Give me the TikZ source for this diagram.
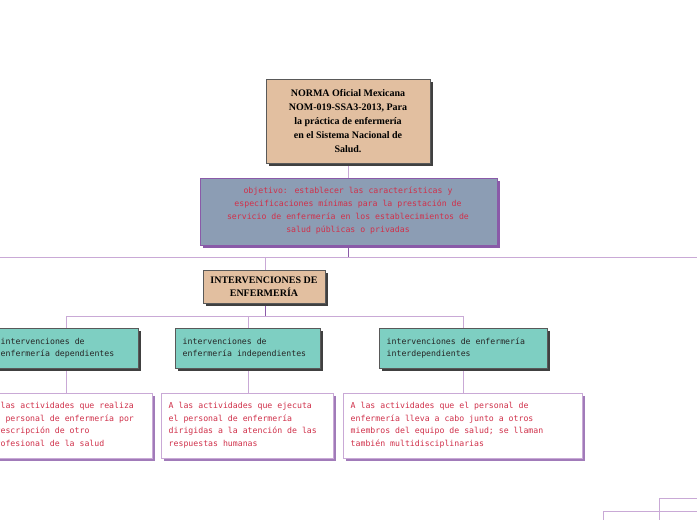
\documentclass[tikz,border=0pt]{standalone}
\usepackage{fontspec}
\setmainfont{Liberation Serif}
\newfontfamily\monof{DejaVu Sans Mono}
\definecolor{tan}{HTML}{E2BFA0}
\definecolor{slate}{HTML}{8C9DB4}
\definecolor{teal}{HTML}{7ECFC2}
\definecolor{lin}{HTML}{C9A9D6}
\definecolor{pur}{HTML}{8A5AA8}
\definecolor{txtred}{HTML}{D0304A}
\tikzset{
  x=1pt,y=-1pt,
  lk/.style={draw=lin,line width=1pt},
  tanbox/.style={draw=gray!70!black,fill=tan,line width=0.8pt,font=\bfseries\fontsize{10}{13}\selectfont,align=center,inner sep=3pt},
  slatebox/.style={draw=pur,fill=slate,line width=0.8pt,font=\monof\fontsize{8.2}{13}\selectfont,text=txtred,align=center},
  tealbox/.style={draw=gray!70!black,fill=teal,line width=0.8pt,font=\monof\fontsize{8.2}{12}\selectfont,align=left,text=black!85},
  whitebox/.style={draw=lin,fill=white,line width=0.8pt,font=\monof\fontsize{8.2}{12.5}\selectfont,align=left,text=txtred},
  shd/.style={fill=#1}
}
\begin{document}
\begin{tikzpicture}
\useasboundingbox (0,0) rectangle (697,520);
\clip (0,0) rectangle (697,520);
% lines
\draw[lk] (0,257) -- (697,257);
\draw[lk] (348,163) -- (348,178);
\draw[pur,line width=1pt] (348,245) -- (348,257);
\draw[lk] (265,257) -- (265,270);
\draw[pur,line width=1pt] (265,303) -- (265,316);
\draw[lk] (66,316) -- (463,316);
\draw[lk] (66,316) -- (66,328) (248,316) -- (248,328) (463,316) -- (463,328);
\draw[lk] (66,368) -- (66,393) (248,368) -- (248,393) (463,368) -- (463,393);
\draw[lk] (659,520) -- (659,498) -- (697,498);
\draw[lk] (603,520) -- (603,511) -- (697,511);
% shadows
\fill[black!75] (269,82) rectangle (433,166);
\fill[pur] (203,181) rectangle (500,248);
\fill[black!75] (206,273) rectangle (328,306);
\foreach \a/\b in {-30/141,178/323,382/550} \fill[black!75] (\a,331) rectangle (\b,371);
\foreach \a/\b in {-40/155,164/336,346/585} \fill[pur!80] (\a,396) rectangle (\b,461);
% boxes
\draw[draw=gray!70!black,fill=tan,line width=0.8pt] (266,79) rectangle (430,163);
\node[align=center,font=\bfseries\fontsize{10}{14}\selectfont] (top) at (348,121) {NORMA Oficial Mexicana\\NOM-019-SSA3-2013, Para\\la práctica de enfermería\\en el Sistema Nacional de\\Salud.};
\draw[draw=pur,fill=slate,line width=0.8pt] (200,178) rectangle (497,245);
\node[slatebox,draw=none,fill=none] (obj) at (348,211) {objetivo: establecer las características y\\especificaciones mínimas para la prestación de\\servicio de enfermería en los establecimientos de\\salud públicas o privadas};
\draw[draw=gray!70!black,fill=tan,line width=0.8pt] (203,270) rectangle (325,303);
\node[align=center,font=\bfseries\fontsize{10}{13}\selectfont] (int) at (264,287) {INTERVENCIONES DE\\ENFERMERÍA};
\foreach \a/\b in {-30/138,175/320,379/547} \draw[draw=gray!70!black,fill=teal,line width=0.8pt] (\a,328) rectangle (\b,368);
\node[tealbox,draw=none,fill=none,anchor=west] (d1) at (-3,348) {intervenciones de\\enfermería dependientes};
\node[tealbox,draw=none,fill=none,anchor=west] (d2) at (179,348) {intervenciones de\\enfermería independientes};
\node[tealbox,draw=none,fill=none,anchor=west] (d3) at (383,348) {intervenciones de enfermería\\interdependientes};
\foreach \a/\b in {-40/152,161/333,343/582} \draw[draw=lin,fill=white,line width=0.8pt] (\a,393) rectangle (\b,458);
\node[whitebox,draw=none,fill=none,anchor=west] (w1) at (-13,425) {A las actividades que realiza\\el personal de enfermería por\\prescripción de otro\\profesional de la salud};
\node[whitebox,draw=none,fill=none,anchor=west] (w2) at (165,425) {A las actividades que ejecuta\\el personal de enfermería\\dirigidas a la atención de las\\respuestas humanas};
\node[whitebox,draw=none,fill=none,anchor=west] (w3) at (347,425) {A las actividades que el personal de\\enfermería lleva a cabo junto a otros\\miembros del equipo de salud; se llaman\\también multidisciplinarias};
\end{tikzpicture}
\end{document}
